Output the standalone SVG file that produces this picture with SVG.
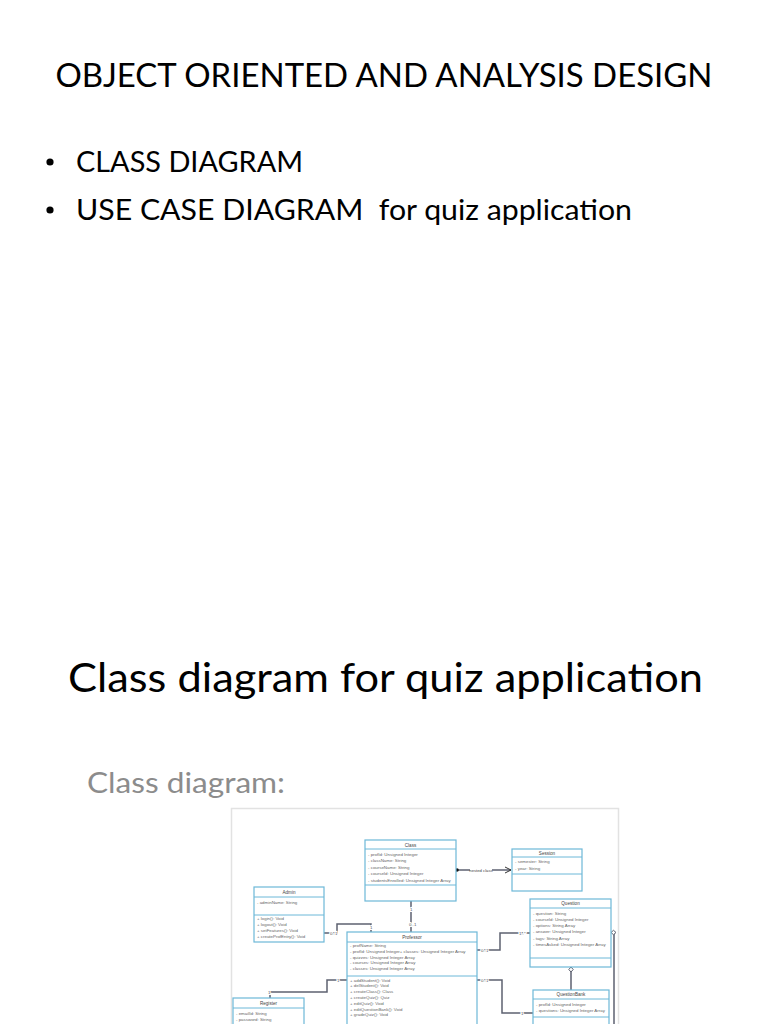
<svg xmlns="http://www.w3.org/2000/svg" width="768" height="1024" viewBox="0 0 768 1024">
<defs>
<style>
.slide{font-family:Lato,"Open Sans","Liberation Sans",sans-serif;fill:#000}
.box{fill:#fff;stroke:#6db8d8;stroke-width:1.2}
.sep{stroke:#6db8d8;stroke-width:1}
.t{font-family:"Liberation Sans",Arial,sans-serif;font-size:4.4px;fill:#666}
.h{font-family:"Liberation Sans",Arial,sans-serif;font-size:4.6px;fill:#444;text-anchor:middle}
.conn{fill:none;stroke:#5d6170;stroke-width:1.5}
.ml{font-family:"Liberation Sans",Arial,sans-serif;font-size:4.4px;fill:#555;stroke:#fff;stroke-width:2;paint-order:stroke}
</style>
<marker id="open" markerWidth="8" markerHeight="8" refX="7" refY="4" orient="auto" markerUnits="userSpaceOnUse">
<path d="M1,1 L7,4 L1,7" fill="none" stroke="#333" stroke-width="1"/>
</marker>
</defs>
<rect width="768" height="1024" fill="#fff"/>

<g id="slide-text">
<text class="slide" x="384" y="87" font-size="33" text-anchor="middle" textLength="657" lengthAdjust="spacingAndGlyphs">OBJECT ORIENTED AND ANALYSIS DESIGN</text>
<circle cx="50" cy="162" r="3.6" fill="#000"/>
<text class="slide" x="76" y="172" font-size="28" textLength="227" lengthAdjust="spacingAndGlyphs">CLASS DIAGRAM</text>
<circle cx="50" cy="210" r="3.6" fill="#000"/>
<text class="slide" x="76" y="220" font-size="28" textLength="556" lengthAdjust="spacingAndGlyphs" xml:space="preserve">USE CASE DIAGRAM  for quiz application</text>
<text class="slide" x="68" y="692" font-size="40" textLength="635" lengthAdjust="spacingAndGlyphs">Class diagram for quiz application</text>
<text class="slide" x="87" y="793" font-size="28" style="fill:#8c8c8c" textLength="198" lengthAdjust="spacingAndGlyphs">Class diagram:</text>
</g>

<rect id="frame" x="231.5" y="808.5" width="387" height="230" fill="#fff" stroke="#e2e2e2" stroke-width="1.5"/>

<g id="connectors">
<line class="conn" x1="457" y1="870" x2="511" y2="870" marker-end="url(#open)"/>
<circle cx="457" cy="870" r="1.8" fill="#111"/>
<rect x="470" y="867.5" width="22" height="5" fill="#fff"/>
<text class="h" x="481" y="871.5" style="font-size:4.2px">nested class</text>

<line class="conn" x1="411" y1="901" x2="411" y2="932"/>
<text class="ml" x="410" y="911">1</text>
<text class="ml" x="409" y="926">0..1</text>

<polyline class="conn" points="324,933 337,933 337,924 371,924 371,932"/>
<text class="ml" x="330" y="935">0..1</text>
<text class="ml" x="370" y="929">1</text>

<polyline class="conn" points="347,980 327,980 327,992 270,992 270,998"/>
<text class="ml" x="337" y="981.5">1</text>
<text class="ml" x="268" y="994">1</text>

<polyline class="conn" points="477,950 500,950 500,933 530,933"/>
<text class="ml" x="481" y="951.5">0..1</text>
<text class="ml" x="519" y="934.5">1..*</text>

<polyline class="conn" points="477,980 502,980 502,1013 533,1013"/>
<text class="ml" x="481" y="981.5">0..1</text>
<text class="ml" x="521" y="1014.5">1</text>

<line class="conn" x1="571" y1="990" x2="571" y2="971"/>
<path d="M571,967 L573.2,969.5 L571,972 L568.8,969.5 Z" fill="#fff" stroke="#5d6170" stroke-width="1"/>

<polyline class="conn" points="614,933 614,1030"/>
<path d="M611,932.5 L613.5,930.3 L616,932.5 L613.5,934.7 Z" fill="#fff" stroke="#5d6170" stroke-width="1"/>
</g>

<g id="class-Class">
<rect class="box" x="365" y="840" width="91" height="61"/>
<line class="sep" x1="365" y1="849" x2="456" y2="849"/>
<line class="sep" x1="365" y1="885" x2="456" y2="885"/>
<text class="h" x="410.5" y="846.5">Class</text>
<text class="t" x="368" y="855.5">- profId: Unsigned Integer</text>
<text class="t" x="368" y="862">- className: String</text>
<text class="t" x="368" y="868.5">- courseName: String</text>
<text class="t" x="368" y="875">- courseId: Unsigned Integer</text>
<text class="t" x="368" y="881.5">- studentsEnrolled: Unsigned Integer Array</text>
</g>

<g id="class-Session">
<rect class="box" x="512" y="849" width="70" height="42"/>
<line class="sep" x1="512" y1="857" x2="582" y2="857"/>
<line class="sep" x1="512" y1="874" x2="582" y2="874"/>
<text class="h" x="547" y="854.5">Session</text>
<text class="t" x="515" y="863">- semester: String</text>
<text class="t" x="515" y="869.5">- year: String</text>
</g>

<g id="class-Question">
<rect class="box" x="530" y="899" width="81" height="68"/>
<line class="sep" x1="530" y1="908" x2="611" y2="908"/>
<line class="sep" x1="530" y1="958" x2="611" y2="958"/>
<text class="h" x="570.5" y="905">Question</text>
<text class="t" x="533" y="914.5">- question: String</text>
<text class="t" x="533" y="920.8">- courseId: Unsigned Integer</text>
<text class="t" x="533" y="927.1">- options: String Array</text>
<text class="t" x="533" y="933.4">- answer: Unsigned Integer</text>
<text class="t" x="533" y="939.7">- tags: String Array</text>
<text class="t" x="533" y="946">- timesAsked: Unsigned Integer Array</text>
</g>

<g id="class-Admin">
<rect class="box" x="254" y="887" width="70" height="55"/>
<line class="sep" x1="254" y1="897" x2="324" y2="897"/>
<line class="sep" x1="254" y1="915" x2="324" y2="915"/>
<text class="h" x="289" y="893.5">Admin</text>
<text class="t" x="257" y="903.5">- adminName: String</text>
<text class="t" x="257" y="919.5">+ login(): Void</text>
<text class="t" x="257" y="925.8">+ logout(): Void</text>
<text class="t" x="257" y="932.1">+ setFeatures(): Void</text>
<text class="t" x="257" y="938.4">+ createProfEntry(): Void</text>
</g>

<g id="class-Professor">
<rect class="box" x="347" y="932" width="130" height="110"/>
<line class="sep" x1="347" y1="942" x2="477" y2="942"/>
<line class="sep" x1="347" y1="976" x2="477" y2="976"/>
<text class="h" x="412" y="938.8">Professor</text>
<text class="t" x="350" y="947">- profName: String</text>
<text class="t" x="350" y="952.8">- profId: Unsigned Integer+ classes: Unsigned Integer Array</text>
<text class="t" x="350" y="958.6">- quizzes: Unsigned Integer Array</text>
<text class="t" x="350" y="964.4">- courses: Unsigned Integer Array</text>
<text class="t" x="350" y="970.2">- classes: Unsigned Integer Array</text>
<text class="t" x="350" y="981.5">+ addStudent(): Void</text>
<text class="t" x="350" y="987.3">+ delStudent(): Void</text>
<text class="t" x="350" y="993.1">+ createClass(): Class</text>
<text class="t" x="350" y="998.9">+ createQuiz(): Quiz</text>
<text class="t" x="350" y="1004.7">+ editQuiz(): Void</text>
<text class="t" x="350" y="1010.5">+ editQuestionBank(): Void</text>
<text class="t" x="350" y="1016.3">+ gradeQuiz(): Void</text>
</g>

<g id="class-QuestionBank">
<rect class="box" x="533" y="990" width="76" height="45"/>
<line class="sep" x1="533" y1="999" x2="609" y2="999"/>
<line class="sep" x1="533" y1="1017" x2="609" y2="1017"/>
<text class="h" x="571" y="996">QuestionBank</text>
<text class="t" x="536" y="1005.5">- profId: Unsigned Integer</text>
<text class="t" x="536" y="1011.8">- questions: Unsigned Integer Array</text>
</g>

<g id="class-Register">
<rect class="box" x="233" y="998" width="71" height="40"/>
<line class="sep" x1="233" y1="1008" x2="304" y2="1008"/>
<text class="h" x="268.5" y="1004.5">Register</text>
<text class="t" x="236" y="1014.5">- emailId: String</text>
<text class="t" x="236" y="1020.8">- password: String</text>
</g>
</svg>
